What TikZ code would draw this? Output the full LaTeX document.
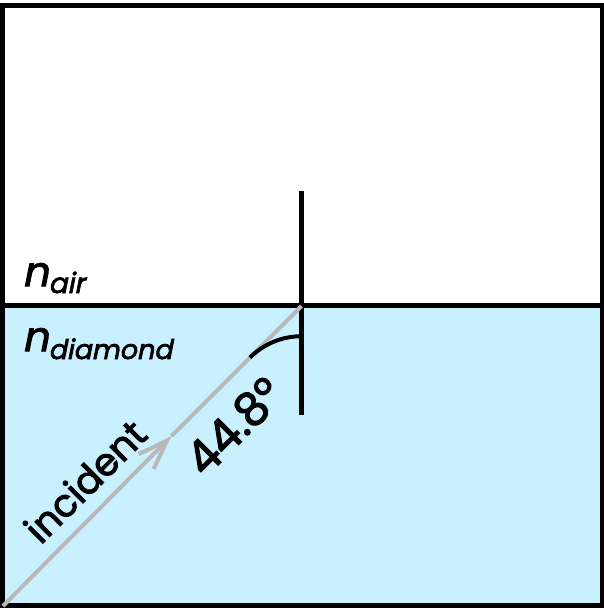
\documentclass[tikz,border=0pt]{standalone}
\usepackage{fontspec}
\setmainfont{Poppins}[FakeBold=2.5]
\newfontfamily\slfont{Poppins}[FakeSlant=0.2,FakeBold=2.5]
\usetikzlibrary{arrows.meta,calc}
\definecolor{diamondblue}{RGB}{200,240,255}
\definecolor{raygray}{RGB}{185,185,185}
\tikzset{
  frame/.style={line width=5pt, draw=black},
  normalline/.style={line width=5pt, draw=black},
  ray/.style={line width=4pt, draw=raygray},
  lbl/.style={inner sep=0pt, text=black},
  anglearc/.style={line width=4pt, draw=black},
}
\begin{document}
\begin{tikzpicture}[x=1pt,y=-1pt]
\useasboundingbox (0,0) rectangle (604,608);
% media
\fill[diamondblue] (2,305) rectangle (602,605.5);
\draw[frame] (2,5) rectangle (602,605.5);
\coordinate (L) at (2,305);
\coordinate (R) at (602,305);
\draw[frame] (L) -- (R);
% normal
\coordinate (O) at (301.5,306);
\coordinate (Ntop) at (301.5,191);
\coordinate (Nbot) at (301.5,415);
\draw[normalline] (Ntop) -- (Nbot);
% incident ray
\coordinate (S) at (3,606);
\coordinate (M) at (171.5,436);
\draw[ray, -{Straight Barb[length=30pt,width=21pt,line width=4pt]}] (S) -- (M);
\draw[ray] (M) -- (O);
% angle arc
\draw[anglearc] ($(O)+(-51.6,51.6)$) arc[start angle=225, end angle=270, radius=73];
% labels
\node[lbl, anchor=base west] (nair) at (22,286) {\fontsize{41}{41}\selectfont\slfont n\fontsize{28}{28}\selectfont\raisebox{-7pt}{air}};
\node[lbl, anchor=base west] (ndia) at (22,351) {\fontsize{41}{41}\selectfont\slfont n\fontsize{27}{27}\selectfont\raisebox{-8pt}{diamond}};
\node[lbl, rotate=45] (inc) at (85,481) {\fontsize{38}{38}\selectfont incident};
\node[lbl, rotate=45] (ang) at (234,426) {\fontsize{46}{46}\selectfont 44.8°};
\end{tikzpicture}
\end{document}
